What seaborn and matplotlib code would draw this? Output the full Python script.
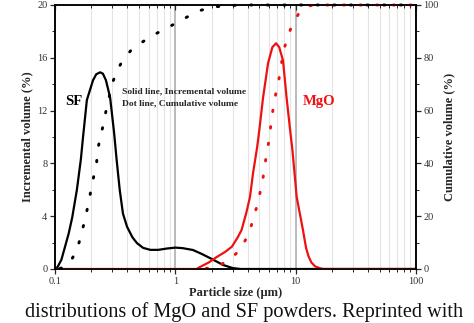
import numpy as np
import pandas as pd
import matplotlib
matplotlib.use("Agg")
import matplotlib.pyplot as plt
from matplotlib.ticker import LogLocator, NullFormatter, MultipleLocator
import seaborn as sns

# ---------------- data ----------------
sf_inc_x = [0.1, 0.105, 0.113, 0.121, 0.13, 0.139, 0.152, 0.164, 0.171, 0.184, 0.207,
            0.22, 0.237, 0.25, 0.265, 0.287, 0.31, 0.325, 0.345, 0.367, 0.397, 0.44,
            0.48, 0.54, 0.62, 0.72, 0.85, 1.0, 1.15, 1.4, 1.65, 1.94, 2.5, 3.0, 3.5, 100]
sf_inc_y = [0, 0.15, 0.7, 1.67, 2.7, 3.9, 6.0, 8.3, 10.0, 12.8, 14.3,
            14.75, 14.9, 14.8, 14.3, 13.0, 10.3, 8.3, 6.0, 4.2, 3.2, 2.4,
            1.96, 1.6, 1.45, 1.45, 1.55, 1.62, 1.58, 1.44, 1.15, 0.83, 0.3, 0.07, 0, 0]

sf_cum_x = [0.11, 0.115, 0.125, 0.133, 0.149, 0.161, 0.177, 0.19, 0.202, 0.212, 0.222,
            0.226, 0.237, 0.25, 0.26, 0.272, 0.287, 0.303, 0.327, 0.37, 0.445, 0.55,
            0.68, 0.85, 1.05, 1.32, 1.63, 2.05, 2.6, 3.5, 100]
sf_cum_y = [0.2, 0.5, 1.5, 2.5, 6.4, 11, 18.5, 25, 31.5, 36, 40.5,
            45, 49.6, 54, 58, 62, 66.7, 71, 75, 79.5, 83.7, 86.4,
            89, 91.2, 93.6, 96, 98, 99.2, 99.7, 100, 100]

mgo_inc_x = [0.1, 1.5, 1.6, 1.9, 2.2, 2.6, 2.95, 3.3, 3.55, 3.9, 4.17, 4.43, 4.78, 5.0,
             5.36, 5.9, 6.4, 6.87, 7.3, 7.85, 8.4, 9.0, 9.4, 10.2, 11.5, 12.2, 12.8,
             13.5, 14.5, 16, 17, 100]
mgo_inc_y = [0, 0, 0.15, 0.5, 0.9, 1.3, 1.69, 2.4, 2.95, 4.3, 5.45, 7.3, 9.2, 10.6,
             13.0, 15.6, 16.8, 17.1, 16.8, 15.8, 13.0, 10.5, 9.0, 5.45, 2.95, 1.6, 0.95,
             0.5, 0.2, 0.05, 0, 0]

mgo_cum_x = [1.8, 2.2, 2.8, 3.45, 3.9, 4.25, 4.5, 4.78, 5.05, 5.3, 5.45, 5.65, 5.86,
             6.05, 6.2, 6.4, 6.6, 6.9, 7.24, 7.5, 7.75, 8.15, 8.7, 9.4, 10.7, 12.2, 14, 100]
mgo_cum_y = [0.2, 0.8, 3.4, 7.2, 11.7, 16, 20, 24, 28.8, 33, 37, 41.7, 45.7,
             50, 54, 58.7, 62.9, 67.2, 71.6, 75.6, 80, 84.5, 88.6, 92.8, 97, 99.3, 100, 100]

x_ticks = [0.1, 1, 10, 100]
x_tick_labels = ["0.1", "1", "10", "100"]
left_ticks = [0, 4, 8, 12, 16, 20]
right_ticks = [0, 20, 40, 60, 80, 100]

# ---------------- style ----------------
sns.set_style("ticks")
plt.rcParams["font.family"] = ["Liberation Serif", "DejaVu Serif"]

RED = "#ee1111"
TICKC = "#333333"

fig = plt.figure(figsize=(4.74, 3.23), dpi=100)
ax = fig.add_axes([55 / 474, 1 - 269 / 323, 361 / 474, 264 / 323])

inc_sf = pd.DataFrame({"size": sf_inc_x, "vol": sf_inc_y})
inc_mgo = pd.DataFrame({"size": mgo_inc_x, "vol": mgo_inc_y})
cum_sf = pd.DataFrame({"size": sf_cum_x, "vol": sf_cum_y})
cum_mgo = pd.DataFrame({"size": mgo_cum_x, "vol": mgo_cum_y})

sns.lineplot(data=inc_sf, x="size", y="vol", ax=ax, color="black", lw=1.6,
             estimator=None, zorder=3)
sns.lineplot(data=inc_mgo, x="size", y="vol", ax=ax, color=RED, lw=1.6,
             estimator=None, zorder=4)

ax.set_xscale("log")
ax.set_xlim(0.1, 100)
ax.set_ylim(0, 20)

ax2 = ax.twinx()
dots = (0, (0.5, 5.2))
sns.lineplot(data=cum_sf, x="size", y="vol", ax=ax2, color="black", lw=2.1,
             estimator=None)
sns.lineplot(data=cum_mgo, x="size", y="vol", ax=ax2, color=RED, lw=2.1,
             estimator=None)
for ln in ax2.lines:
    ln.set_linestyle(dots)
    ln.set_dash_capstyle("round")
    ln.set_clip_on(False)
ax2.set_ylim(0, 100)
ax2.set_xlim(0.1, 100)

# grid
ax.set_axisbelow(True)
ax.xaxis.set_minor_locator(LogLocator(base=10, subs=np.arange(2, 10)))
ax.xaxis.set_minor_formatter(NullFormatter())
ax.grid(which="major", axis="x", color="#a8a8a8", lw=1.1)
ax.grid(which="minor", axis="x", color="#e4e4e4", lw=0.8)

# ticks
ax.set_xticks(x_ticks, labels=x_tick_labels)
ax.set_yticks(left_ticks)
ax.yaxis.set_minor_locator(MultipleLocator(2))
ax.tick_params(which="major", direction="out", length=3.5, width=0.9,
               labelsize=7.5, labelcolor=TICKC, pad=2, top=False, right=False)
ax.tick_params(which="minor", direction="out", length=2.2, width=0.7,
               top=False, right=False)
ax2.set_yticks(right_ticks)
ax2.yaxis.set_minor_locator(MultipleLocator(10))
ax2.tick_params(axis="y", which="major", direction="out", length=3.5, width=0.9,
                labelsize=7.5, labelcolor=TICKC, pad=2)
ax2.tick_params(axis="y", which="minor", direction="out", length=2.2, width=0.7)
# top ticks pointing inward
ax2.xaxis.set_visible(True)
ax2.tick_params(axis="x", which="both", top=True, bottom=False, labeltop=False,
                labelbottom=False, direction="in")
ax2.tick_params(axis="x", which="major", length=3.5, width=0.9)
ax2.tick_params(axis="x", which="minor", length=2.2, width=0.7)

for a in (ax, ax2):
    for s in a.spines.values():
        s.set_color("black")
        s.set_linewidth(1.1)

ax.set_xlabel("Particle size (\u03bcm)", fontsize=9, fontweight="bold", labelpad=1)
ax.set_ylabel("Incremental volume (%)", fontsize=9, fontweight="bold", labelpad=3)
ax2.set_ylabel("Cumulative volume (%)", fontsize=9, fontweight="bold", labelpad=3)
ax2.set_xlabel("")

ax.text(0.053, 0.636, "SF", transform=ax.transAxes, fontsize=10.5, fontweight="bold",
        ha="center", va="center", color="black")
ax.text(0.731, 0.636, "MgO", transform=ax.transAxes, fontsize=10.5, fontweight="bold",
        ha="center", va="center", color=RED)
ax.text(0.186, 0.672, "Solid line, Incremental volume", transform=ax.transAxes,
        fontsize=6.8, fontweight="bold", ha="left", va="center")
ax.text(0.186, 0.627, "Dot line, Cumulative volume", transform=ax.transAxes,
        fontsize=6.8, fontweight="bold", ha="left", va="center")

fig.text(25 / 474, 1 / 323, "distributions of MgO and SF powders. Reprinted with",
         fontsize=14.6, ha="left", va="bottom", color="#111111")

fig.savefig("out.png", dpi=100)
